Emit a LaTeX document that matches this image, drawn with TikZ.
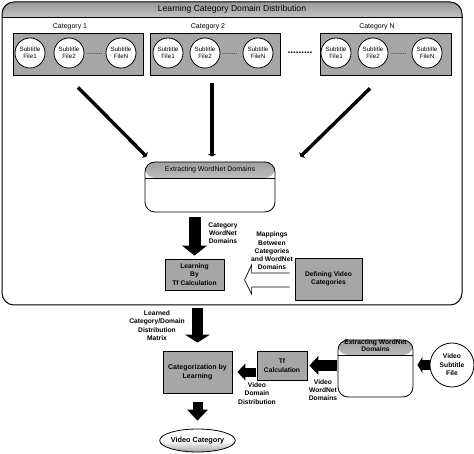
\documentclass[tikz,border=0pt]{standalone}
\usepackage{fontspec}
\setmainfont{Liberation Sans}
\usetikzlibrary{arrows.meta,shapes.geometric,calc}
\definecolor{boxgray}{RGB}{166,166,166}
\tikzset{
  outerbox/.style={draw=black, line width=1pt, rounded corners=12pt, minimum width=460pt, minimum height=303pt, inner sep=0pt},
  ttl/.style={font=\fontsize{8.6}{10}\selectfont, inner sep=0pt},
  catlbl/.style={font=\fontsize{7}{8}\selectfont, inner sep=0pt},
  grp/.style={draw=black, fill=boxgray, line width=0.8pt, inner sep=0pt, minimum height=42pt},
  sub/.style={circle, draw=black, fill=white, line width=0.8pt, minimum size=30pt, inner sep=0pt, align=center, font=\fontsize{6.2}{7.2}\selectfont},
  dots/.style={inner sep=0pt, font=\fontsize{7}{8}\selectfont},
  bigdots/.style={inner sep=0pt, font=\bfseries\fontsize{10}{12}\selectfont},
  catarrow/.style={line width=3.4pt, -{Triangle[length=2.5pt, width=8.5pt, line width=0pt]}},
  blk/.style n args={3}{line width=#1, -{Triangle[length=#2, width=#3, line width=0pt]}},
  extbox/.style={draw=black, line width=0.8pt, fill=white, rounded corners=10pt, inner sep=0pt},
  hdr/.style={path picture={
      \shade[top color=gray!75, bottom color=white] (path picture bounding box.north west) rectangle ($(path picture bounding box.north east)+(0,#1)$);
      \draw[line width=0.8pt] ($(path picture bounding box.north west)+(0,#1)$) -- ($(path picture bounding box.north east)+(0,#1)$);}},
  gbox/.style={draw=black, fill=boxgray, line width=0.8pt, inner sep=0pt, align=center, font=\bfseries\fontsize{6.7}{8.3}\selectfont},
  lbl/.style={inner sep=0pt, align=center, font=\bfseries\fontsize{6.7}{8.3}\selectfont},
  hdrtxt/.style={inner sep=0pt, font=\fontsize{7}{8}\selectfont},
  hollowarr/.style={draw=black, fill=white, line width=0.7pt, line join=miter},
  vcat/.style={ellipse, draw=black, line width=0.8pt, top color=white, bottom color=gray!70, middle color=white, minimum width=61pt, minimum height=23pt, inner sep=0pt, font=\bfseries\fontsize{7.3}{8.5}\selectfont},
}
\begin{document}
\begin{tikzpicture}[x=1pt,y=-1pt]
\useasboundingbox (0,0) rectangle (474,454);

% ---------- outer container ----------
\begin{scope}
  \clip (0,0) rectangle (474,17);
  \shade[top color=gray!80, bottom color=white, rounded corners=12pt] (2,2) rectangle (462,40);
\end{scope}
\node[outerbox] (outer) at (232,153.5) {};
\draw[line width=0.8pt] (outer.west |- 0,17) -- (outer.east |- 0,17);
\node[ttl] (title) at (232,9.5) {Learning Category Domain Distribution};

% ---------- categories ----------
\node[catlbl] (c1l) at (70,27) {Category 1};
\node[catlbl] (c2l) at (208,27) {Category 2};
\node[catlbl] (cNl) at (377,27) {Category N};

\node[grp, minimum width=130pt] (cat1) at (78,54) {};
\node[grp, minimum width=130pt] (cat2) at (215,54) {};
\node[grp, minimum width=131pt] (catN) at (385.5,54) {};

\node[sub] (s11) at (30,53) {Subtitle\\File1};
\node[sub] (s12) at (69,53) {Subtitle\\File2};
\node[sub] (s1N) at (121,53) {Subtitle\\FileN};
\node[dots] (d1) at (95,54) {........};

\node[sub] (s21) at (168,53) {Subtitle\\File1};
\node[sub] (s22) at (205,53) {Subtitle\\File2};
\node[sub] (s2N) at (258,53) {Subtitle\\FileN};
\node[dots] (d2) at (230,54) {........};

\node[bigdots] (dmid) at (300,53) {.........};

\node[sub] (sN1) at (336,53) {Subtitle\\File1};
\node[sub] (sN2) at (373,53) {Subtitle\\File2};
\node[sub] (sNN) at (427,53) {Subtitle\\FileN};
\node[dots] (dN) at (399,54) {........};

% ---------- extracting WordNet domains (1) ----------
\node[extbox, hdr=16, minimum width=130pt, minimum height=50pt] (ext1) at (210,187) {};
\node[hdrtxt] (ext1t) at (210,170) {Extracting WordNet Domains};

\draw[catarrow] ($(cat1.south)+(0,12)$) -- ($(ext1.north west)+(2,-5)$);
\draw[catarrow] ($(cat2.south)+(-3,8)$) -- ($(ext1.north)+(2,-5)$);
\draw[catarrow] ($(catN.south)+(-15.5,13)$) -- ($(ext1.north east)+(25,-5)$);

% ---------- learning ----------
\node[gbox, minimum width=59pt, minimum height=31pt] (learn) at (194.5,274.5) {Learning\\By\\Tf Calculation};
\node[gbox, minimum width=67pt, minimum height=42pt] (def) at (328.5,279) {Defining Video\\Categories};

\draw[blk={12pt}{10pt}{25pt}, shorten <=5pt, shorten >=3pt] (learn.north |- ext1.south) -- (learn.north);
\node[lbl] (cwd) at (223,233) {Category\\WordNet\\Domains};

\filldraw[hollowarr] ($(def.west)+(-5,-6)$) -- ++(-38,0) -- ++(0,-8) -- ++(-7,15) -- ++(7,14) -- ++(0,-7) -- ++(38,0);
\node[lbl] (map) at (272,251) {Mappings\\Between\\Categories\\and WordNet\\Domains};

% ---------- categorization ----------
\node[gbox, minimum width=69pt, minimum height=42pt, font=\bfseries\fontsize{7}{8.5}\selectfont] (catg) at (197.5,372) {Categorization by\\Learning};
\node[gbox, minimum width=50pt, minimum height=29pt] (tf) at (282,365.5) {Tf\\Calculation};
\node[extbox, hdr=15, minimum width=75pt, minimum height=57pt] (ext2) at (375.5,368.5) {};
\node[lbl, font=\bfseries\fontsize{6.7}{7.2}\selectfont] (ext2t) at (375.5,346) {Extracting WordNet\\Domains};
\node[circle, draw=black, fill=white, line width=0.8pt, minimum size=44pt, inner sep=0pt, align=center, font=\bfseries\fontsize{6.7}{8.5}\selectfont] (vsf) at (452,365) {Video\\Subtitle\\File};

\draw[blk={11pt}{8pt}{25pt}, shorten <=3pt, shorten >=8pt] (catg.north |- outer.south) -- (catg.north);
\node[lbl] (lcm) at (157,325.5) {Learned\\Category/Domain\\Distribution\\Matrix};

\draw[blk={10pt}{5pt}{16pt}, shorten >=4pt] (vsf.west) -- (ext2.east |- vsf.west);
\draw[blk={11pt}{9pt}{19pt}, shorten <=1pt, shorten >=2pt] (ext2.west |- tf.east) -- (tf.east);
\draw[blk={9pt}{8pt}{17pt}, shorten <=1pt, shorten >=5pt] (tf.west |- catg.east) -- (catg.east);

\node[lbl] (vdd) at (257,393.5) {Video\\Domain\\Distribution};
\node[lbl] (vwd) at (323,390) {Video\\WordNet\\Domains};

% ---------- result ----------
\node[vcat] (vc) at (197.5,440.5) {Video Category};
\draw[blk={10pt}{11pt}{21pt}, shorten <=9pt, shorten >=8pt] (catg.south) -- (vc.north);

\end{tikzpicture}
\end{document}
